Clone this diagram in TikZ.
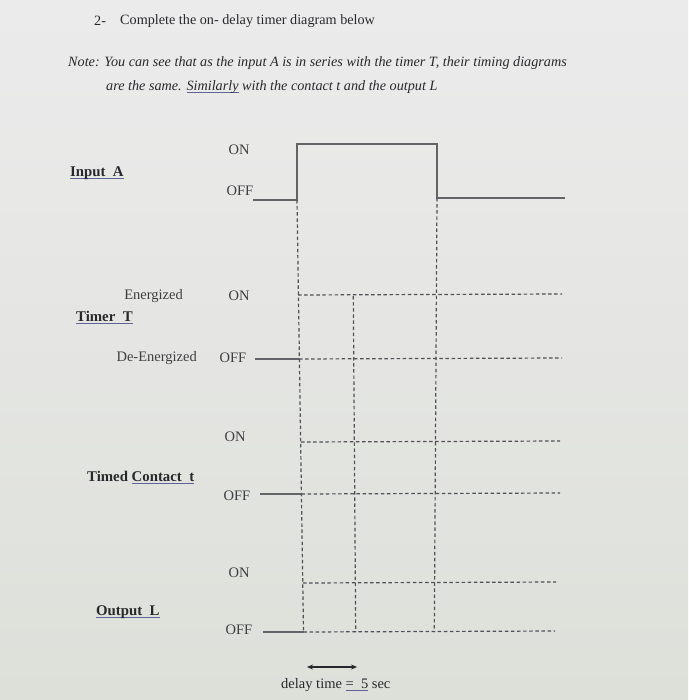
\documentclass[tikz,border=0pt]{standalone}
\usepackage{fontspec}
\setmainfont{Liberation Serif}
\usetikzlibrary{arrows.meta}
\definecolor{bgtop}{RGB}{236,235,236}
\definecolor{bgbot}{RGB}{221,224,217}
\definecolor{ink}{RGB}{40,40,44}
\definecolor{lbl}{RGB}{62,62,66}
\definecolor{sig}{RGB}{100,100,104}
\definecolor{dsh}{RGB}{80,80,86}
\definecolor{ulc}{RGB}{95,100,150}
\newcommand\myul[1]{\setbox0\hbox{#1}\rlap{\color{ulc}\rule[-2.3pt]{\wd0}{0.9pt}}\box0\relax}
\begin{document}
\begin{tikzpicture}[x=1pt,y=-1pt,
  txt/.style={inner sep=0pt,text=ink,font=\fontsize{14.2}{17}\selectfont},
  lab/.style={inner sep=0pt,text=lbl,font=\fontsize{14.5}{17}\selectfont},
  blab/.style={inner sep=0pt,text=ink,font=\fontsize{14.8}{17}\selectfont\bfseries},
  solidsig/.style={draw=sig,line width=1.2pt},
  dsig/.style={draw=dsh,line width=1.2pt,dash pattern=on 3.5pt off 2.6pt}]
\shade[top color=bgtop,bottom color=bgbot] (0,0) rectangle (688,700);
\useasboundingbox (0,0) rectangle (688,700);
% header
\node[txt,anchor=west] (num) at (94,21) {2-};
\node[txt,anchor=west] (title) at (120,21) {Complete the on- delay timer diagram below};
\node[txt,anchor=west,font=\fontsize{14.2}{17}\selectfont\itshape] (note1) at (68,63) {Note: You can see that as the input A is in series with the timer T, their timing diagrams};
\node[txt,anchor=west,font=\fontsize{14.2}{17}\selectfont\itshape] (note2) at (106,87) {are the same. \myul{Similarly} with the contact t and the output L};
% labels
\node[lab] (aon) at (239,150) {ON};
\node[lab] (aoff) at (240,191) {OFF};
\node[blab,anchor=west] (inA) at (70,173) {\myul{Input\ \ A}};
\node[lab,anchor=east] (ener) at (183,296) {Energized};
\node[lab] (ton) at (239,296) {ON};
\node[blab,anchor=west] (timT) at (76,318) {\myul{Timer\ \ T}};
\node[lab,anchor=east] (dener) at (197,358) {De-Energized};
\node[lab] (toff) at (233,358) {OFF};
\node[lab] (con) at (235,437) {ON};
\node[blab,anchor=west] (tc) at (87,478) {Timed \myul{Contact\ \ t}};
\node[lab] (coff) at (237,496) {OFF};
\node[lab] (oon) at (239,573) {ON};
\node[blab,anchor=west] (outL) at (96,612) {\myul{Output\ \ L}};
\node[lab] (ooff) at (239,630) {OFF};
% coordinates
\coordinate (a0) at (253,200);
\coordinate (a1) at (297,200);
\coordinate (a2) at (297,144);
\coordinate (a3) at (437,144);
\coordinate (a4) at (437,198);
\coordinate (a5) at (565,198);
\coordinate (lb) at (303.5,632);
\coordinate (mt) at (353.3,296);
\coordinate (mb) at (355.7,632);
\coordinate (rb) at (434.3,632);
% input A
\draw[solidsig] (a0) -- (a1) -- (a2) -- (a3) -- (a4) -- (a5);
% timer T
\coordinate (t1s) at (298,295); \coordinate (t1e) at (562,294);
\coordinate (t0a) at (255,359); \coordinate (t0s) at (299,359); \coordinate (t0e) at (562,358);
\draw[dsig] (t1s) -- (t1e);
\draw[solidsig] (t0a) -- (t0s);
\draw[dsig] (t0s) -- (t0e);
% contact
\coordinate (c1s) at (301,442); \coordinate (c1e) at (560,441);
\coordinate (c0a) at (260,494); \coordinate (c0s) at (301.5,494); \coordinate (c0e) at (560,493);
\draw[dsig] (c1s) -- (c1e);
\draw[solidsig] (c0a) -- (c0s);
\draw[dsig] (c0s) -- (c0e);
% output
\coordinate (o1s) at (303,583); \coordinate (o1e) at (556,582);
\coordinate (o0a) at (263,632); \coordinate (o0s) at (303.5,632); \coordinate (o0e) at (555,631);
\draw[dsig] (o1s) -- (o1e);
\draw[solidsig] (o0a) -- (o0s);
\draw[dsig] (o0s) -- (o0e);
% vertical dashed
\draw[dsig] (a1) -- (lb);
\draw[dsig] (mt) -- (mb);
\draw[dsig] (a4) -- (rb);
% delay arrow
\coordinate (d0) at (307,667); \coordinate (d1) at (357,667);
\draw[draw=ink,line width=1.2pt,{Stealth[length=6pt,width=5pt]}-{Stealth[length=6pt,width=5pt]}] (d0) -- (d1);
\node[lab,anchor=west,text=ink] (dt) at (281,685) {delay time \myul{=\ \ 5} sec};
\end{tikzpicture}
\end{document}
